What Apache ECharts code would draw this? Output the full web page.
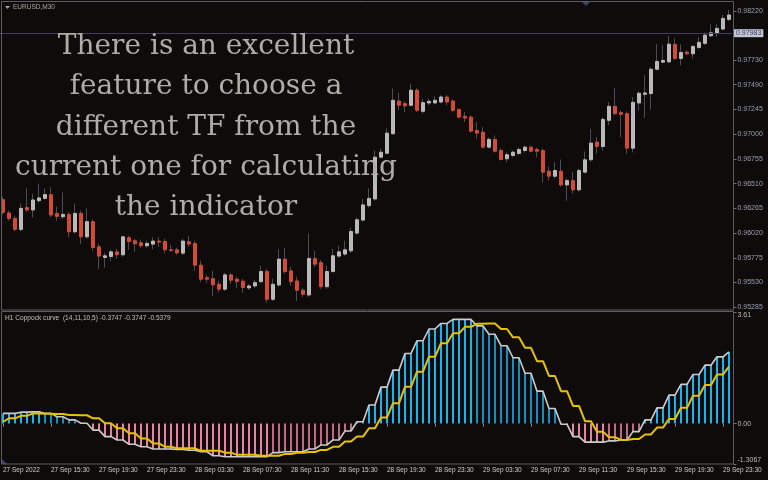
<!DOCTYPE html>
<html><head><meta charset="utf-8">
<script src="https://cdn.jsdelivr.net/npm/echarts@6/dist/echarts.min.js"></script>
<style>html,body{margin:0;padding:0;background:#0e0b0a;}#c{width:768px;height:480px;}</style>
</head><body><div id="c"></div>
<script>
// ---- time axis tick labels (every 8th M30 bar) ----
const tickLabels = ["27 Sep 2022","27 Sep 15:30","27 Sep 19:30","27 Sep 23:30","28 Sep 03:30","28 Sep 07:30","28 Sep 11:30","28 Sep 15:30","28 Sep 19:30","28 Sep 23:30","29 Sep 03:30","29 Sep 07:30","29 Sep 11:30","29 Sep 15:30","29 Sep 19:30","29 Sep 23:30"];

// ---- EURUSD M30 candles ----
const opens = [0.96351,0.96219,0.96165,0.96056,0.96272,0.96249,0.96341,0.96364,0.96401,0.96215,
0.96182,0.96205,0.96033,0.96215,0.95983,0.96133,0.95884,0.95778,0.95788,0.95834,
0.95805,0.95974,0.95944,0.95924,0.95894,0.95911,0.95941,0.95937,0.95854,0.95854,
0.95821,0.95934,0.95917,0.95702,0.95579,0.95569,0.95513,0.95464,0.95606,0.95563,
0.95543,0.95477,0.95496,0.95539,0.95639,0.95364,0.95506,0.95762,0.95646,0.95546,
0.95454,0.95407,0.95768,0.95728,0.95489,0.95639,0.95792,0.95812,0.95844,0.96020,
0.96149,0.96292,0.96358,0.96772,0.96811,0.97004,0.97328,0.97303,0.97286,0.97435,
0.97226,0.97309,0.97309,0.97318,0.97368,0.97328,0.97243,0.97176,0.97169,0.97037,
0.97020,0.96871,0.96948,0.96838,0.96756,0.96789,0.96809,0.96838,0.96871,0.96848,
0.96838,0.96633,0.96583,0.96633,0.96497,0.96540,0.96448,0.96623,0.96746,0.96921,
0.96878,0.97137,0.97276,0.97213,0.97203,0.96861,0.97309,0.97395,0.97402,0.97643,
0.97713,0.97716,0.97889,0.97750,0.97812,0.97796,0.97859,0.97899,0.97974,0.97998,
0.98041,0.98137];
const closes = [0.96225,0.96165,0.96056,0.96265,0.96249,0.96348,0.96368,0.96401,0.96199,0.96185,
0.96205,0.96033,0.96215,0.95983,0.96133,0.95877,0.95792,0.95795,0.95834,0.95805,
0.95983,0.95937,0.95914,0.95894,0.95917,0.95941,0.95931,0.95854,0.95847,0.95824,
0.95941,0.95911,0.95702,0.95563,0.95563,0.95506,0.95464,0.95606,0.95553,0.95539,
0.95480,0.95496,0.95529,0.95639,0.95364,0.95513,0.95762,0.95639,0.95539,0.95454,
0.95414,0.95768,0.95712,0.95489,0.95639,0.95795,0.95834,0.95854,0.96036,0.96152,
0.96299,0.96364,0.96772,0.96821,0.97010,0.97335,0.97286,0.97279,0.97435,0.97236,
0.97312,0.97325,0.97335,0.97368,0.97318,0.97236,0.97169,0.97159,0.97030,0.97010,
0.96871,0.96948,0.96831,0.96749,0.96796,0.96821,0.96848,0.96871,0.96831,0.96831,
0.96623,0.96583,0.96640,0.96497,0.96540,0.96448,0.96640,0.96746,0.96911,0.96878,
0.97146,0.97276,0.97203,0.97196,0.96861,0.97315,0.97405,0.97408,0.97643,0.97720,
0.97730,0.97892,0.97750,0.97809,0.97796,0.97869,0.97909,0.97981,0.98004,0.98048,
0.98147,0.98180];
const lows = [0.96202,0.96143,0.96043,0.96043,0.96232,0.96175,0.96321,0.96351,0.96175,0.96143,
0.96162,0.95977,0.96013,0.95914,0.95964,0.95844,0.95662,0.95678,0.95745,0.95765,
0.95785,0.95854,0.95834,0.95874,0.95874,0.95861,0.95884,0.95817,0.95834,0.95805,
0.95805,0.95884,0.95646,0.95536,0.95526,0.95397,0.95430,0.95447,0.95516,0.95477,
0.95427,0.95457,0.95477,0.95526,0.95330,0.95347,0.95486,0.95616,0.95496,0.95347,
0.95387,0.95387,0.95685,0.95467,0.95467,0.95626,0.95775,0.95795,0.95824,0.96003,
0.96133,0.96272,0.96341,0.96759,0.96799,0.96997,0.97236,0.97219,0.97276,0.97219,
0.97203,0.97286,0.97296,0.97306,0.97286,0.97216,0.97156,0.97120,0.97017,0.96955,
0.96858,0.96858,0.96818,0.96739,0.96722,0.96769,0.96789,0.96818,0.96818,0.96772,
0.96523,0.96540,0.96560,0.96480,0.96341,0.96411,0.96431,0.96620,0.96729,0.96809,
0.96838,0.97087,0.97186,0.96971,0.96806,0.96821,0.97236,0.97163,0.97243,0.97634,
0.97703,0.97703,0.97733,0.97683,0.97783,0.97750,0.97842,0.97882,0.97962,0.97965,
0.98031,0.98121];
const highs = [0.96381,0.96242,0.96192,0.96312,0.96461,0.96411,0.96510,0.96461,0.96474,0.96282,
0.96424,0.96232,0.96314,0.96242,0.96265,0.96152,0.95914,0.95827,0.95854,0.95864,
0.95993,0.95993,0.95964,0.95954,0.95944,0.95977,0.95977,0.95964,0.95904,0.95874,
0.95964,0.95993,0.95944,0.95745,0.95606,0.95646,0.95546,0.95626,0.95626,0.95586,
0.95566,0.95516,0.95556,0.95695,0.95665,0.95566,0.95861,0.95874,0.95685,0.95586,
0.95477,0.96013,0.95844,0.95755,0.95695,0.95864,0.95894,0.95944,0.96073,0.96175,
0.96358,0.96461,0.96838,0.96858,0.97057,0.97452,0.97408,0.97325,0.97501,0.97455,
0.97352,0.97352,0.97375,0.97385,0.97385,0.97345,0.97256,0.97219,0.97186,0.97120,
0.97070,0.96968,0.96987,0.96858,0.96818,0.96838,0.96868,0.96888,0.96888,0.96868,
0.96858,0.96679,0.96722,0.96749,0.96560,0.96623,0.96659,0.96828,0.97054,0.96971,
0.97166,0.97318,0.97458,0.97236,0.97226,0.97368,0.97425,0.97584,0.97663,0.97892,
0.97882,0.97971,0.97949,0.97889,0.97832,0.97882,0.97959,0.98008,0.98088,0.98088,
0.98180,0.98230];
const currentPrice = 0.97983;
const priceTicks = [0.98220,0.97730,0.97490,0.97245,0.97000,0.96755,0.96510,0.96265,0.96020,0.95775,0.95530,0.95285];

// ---- H1 Coppock curve (per M30 bar) ----
const coppock = [0.33,
0.33,0.33, 0.37,0.37, 0.38,0.38, 0.33,0.33, 0.22,0.22, 0.12,0.12, 0.01,0.01, -0.21,-0.21, -0.42,-0.42, -0.53,-0.53,
-0.67,-0.67, -0.75,-0.75, -0.82,-0.82, -0.82,-0.82, -0.84,-0.84, -0.86,-0.86, -0.91,-0.91, -1.04,-1.04, -1.07,-1.07, -1.07,-1.07,
-1.07,-1.07, -1.07,-1.07, -0.94,-0.94, -0.91,-0.91, -0.91,-0.91, -0.82,-0.82, -0.69,-0.69, -0.53,-0.53, -0.24,-0.24, 0.06,0.06,
0.60,0.60, 1.18,1.18, 1.73,1.73, 2.27,2.27, 2.68,2.68, 3.06,3.06, 3.24,3.24, 3.37,3.37, 3.37,3.37, 3.16,3.16,
2.89,2.89, 2.52,2.52, 2.13,2.13, 1.63,1.63, 1.05,1.05, 0.49,0.49, -0.02,-0.02, -0.42,-0.42, -0.60,-0.60, -0.60,-0.60,
-0.56,-0.56, -0.53,-0.53, -0.26,-0.26, 0.12,0.12, 0.51,0.51, 0.92,0.92, 1.27,1.27, 1.59,1.59, 1.89,1.89, 2.16,2.16,
2.32];
const signal = [0.06,
0.17,0.17, 0.25,0.25, 0.33,0.33, 0.32,0.32, 0.31,0.31, 0.28,0.28, 0.27,0.27, 0.17,0.17, 0.01,0.01, -0.15,-0.15,
-0.31,-0.31, -0.48,-0.48, -0.64,-0.64, -0.75,-0.75, -0.80,-0.80, -0.80,-0.80, -0.88,-0.88, -0.88,-0.88, -0.94,-0.94, -1.01,-1.01,
-1.01,-1.01, -1.04,-1.04, -1.04,-1.04, -0.98,-0.98, -0.94,-0.94, -0.92,-0.92, -0.85,-0.85, -0.75,-0.75, -0.58,-0.58, -0.42,-0.42,
-0.15,-0.15, 0.20,0.20, 0.66,0.66, 1.19,1.19, 1.68,1.68, 2.16,2.16, 2.60,2.60, 2.92,2.92, 3.13,3.13, 3.23,3.23,
3.24,3.24, 3.06,3.06, 2.79,2.79, 2.45,2.45, 2.02,2.02, 1.54,1.54, 1.05,1.05, 0.57,0.57, 0.08,0.08, -0.26,-0.26,
-0.44,-0.44, -0.53,-0.53, -0.50,-0.50, -0.35,-0.35, -0.13,-0.13, 0.15,0.15, 0.51,0.51, 0.90,0.90, 1.25,1.25, 1.59,1.59,
1.84];
const indTickValues = [-1.3067, 0, 3.61];
const indTickLabels = ["-1.3067", "0.00", "3.61"];
const overlayLines = ["There is an excellent", "feature to choose a", "different TF from the", "current one for calculating", "the indicator"];

// ---- build library inputs ----
const cats = coppock.map((_, i) => String(i));
const wickData = opens.map((o, i) => [o, closes[i], lows[i], highs[i]]);
const bodyData = opens.map((o, i) => [o, closes[i], Math.min(o, closes[i]), Math.max(o, closes[i])]);
// histogram: [barIndex, value, strong(1)/weak(0)]
const histData = [];
let st = 1;
coppock.forEach((v, i) => {
  if (i > 0) {
    const p = coppock[i - 1];
    if (Math.sign(v) !== Math.sign(p)) st = 1;
    else if (Math.abs(v) > Math.abs(p)) st = 1;
    else if (Math.abs(v) < Math.abs(p)) st = 0;
  }
  histData.push([i, v, st]);
});
const HIST_COLORS = {pos1: '#1cb2ec', pos0: '#168ec2', neg1: '#e8849e', neg0: '#c06a83'};

const FONT = '"Liberation Sans", Arial, sans-serif';
const chart = echarts.init(document.getElementById('c'), null, {renderer: 'canvas'});
const labelEvery8 = (i) => i % 8 === 0;

const graphics = [
  {type: 'rect', shape: {x: 1.5, y: 1.5, width: 732, height: 308.5}, style: {fill: 'none', stroke: '#5c5c62', lineWidth: 1}, silent: true, z: 100},
  {type: 'rect', shape: {x: 1.5, y: 311.5, width: 732, height: 152.5}, style: {fill: 'none', stroke: '#5c5c62', lineWidth: 1}, silent: true, z: 100},
  {type: 'polygon', shape: {points: [[5, 6], [10, 6], [7.5, 9]]}, style: {fill: '#a0a0a0'}, silent: true},
  {type: 'text', x: 13, y: 7.5, style: {text: 'EURUSD,M30', fill: '#a8a8a8', font: '6.5px ' + FONT, verticalAlign: 'middle'}, silent: true},
  {type: 'polygon', shape: {points: [[582, 2], [590, 2], [586, 6]]}, style: {fill: '#3e4468'}, silent: true},
  {type: 'text', x: 5, y: 318.5, style: {text: 'H1 Coppock curve  (14,11,10,5) -0.3747 -0.3747 -0.5379', fill: '#c0c0c0', font: '6.6px ' + FONT, verticalAlign: 'middle'}, silent: true},
  {type: 'polygon', shape: {points: [[2, 459], [2, 464], [7, 464]]}, style: {fill: '#3c3c80'}, silent: true}
];
overlayLines.forEach((t, k) => {
  graphics.push({type: 'text', x: 206, y: 46.5 + k * 40.4, z: 50,
    style: {text: t, fill: '#b0ada8', font: '28px "DejaVu Serif", serif', align: 'center', verticalAlign: 'middle'}, silent: true});
});

function renderHist(params, api) {
  const idx = api.value(0), v = api.value(1), strong = api.value(2) === 1;
  const base = api.coord([idx, 0]);
  const top = api.coord([idx, v]);
  const x = Math.round(base[0]) - 1;
  const y0 = Math.min(base[1], top[1]), h = Math.abs(top[1] - base[1]);
  const key = (v >= 0 ? 'pos' : 'neg') + (strong ? '1' : '0');
  return {type: 'rect', shape: {x: x, y: y0, width: 2, height: h}, style: {fill: HIST_COLORS[key]}};
}

chart.setOption({
  backgroundColor: '#0e0b0a',
  animation: false,
  textStyle: {fontFamily: FONT},
  grid: [
    {left: 0, width: 732, top: 2, height: 308, outerBoundsMode: 'none', containLabel: false},
    {left: 0, width: 732, top: 312, height: 152, outerBoundsMode: 'none', containLabel: false}
  ],
  xAxis: [
    {type: 'category', gridIndex: 0, data: cats, show: false, boundaryGap: true},
    {type: 'category', gridIndex: 1, data: cats, boundaryGap: true,
      axisLine: {show: false},
      axisTick: {show: true, interval: labelEvery8, alignWithLabel: true, length: 3, lineStyle: {color: '#8a8a8a'}},
      axisLabel: {show: true, interval: labelEvery8, align: 'left', margin: 3, color: '#d0d0d0', fontSize: 6.5, fontFamily: FONT,
        formatter: (v, i) => tickLabels[i / 8]},
      splitLine: {show: false}}
  ],
  yAxis: [
    {type: 'value', gridIndex: 0, position: 'right', offset: 1.5, min: 0.95258, max: 0.98309, scale: true,
      axisLine: {show: false}, splitLine: {show: false},
      axisTick: {show: true, length: 3, customValues: priceTicks, lineStyle: {color: '#70707a'}},
      axisLabel: {show: true, customValues: priceTicks, margin: 4, color: '#9aa0b6', fontSize: 7, fontFamily: FONT,
        formatter: (v) => v.toFixed(5)}},
    {type: 'value', gridIndex: 1, position: 'right', offset: 1.5, min: -1.3067, max: 3.61,
      axisLine: {show: false}, splitLine: {show: false},
      axisTick: {show: true, length: 3, customValues: indTickValues, lineStyle: {color: '#70707a'}},
      axisLabel: {show: true, customValues: indTickValues, margin: 4, color: '#bcbcbc', fontSize: 7, fontFamily: FONT,
        verticalAlignMinLabel: 'bottom', verticalAlignMaxLabel: 'top',
        formatter: (v) => { const k = indTickValues.indexOf(v); return k >= 0 ? indTickLabels[k] : ''; }}}
  ],
  series: [
    {type: 'candlestick', name: 'wicks', xAxisIndex: 0, yAxisIndex: 0, data: wickData, barWidth: 1,
      itemStyle: {color: '#4c4c58', color0: '#4c4c58', borderColor: '#4c4c58', borderColor0: '#4c4c58', borderWidth: 1},
      markLine: {silent: true, symbol: 'none', animation: false,
        lineStyle: {color: '#3c3e62', width: 1, type: 'solid'},
        label: {show: true, position: 'end', distance: 2, formatter: () => currentPrice.toFixed(5),
          backgroundColor: '#c2c6d2', color: '#3a4262', fontSize: 7, fontFamily: FONT, padding: [1, 2, 0, 2]},
        data: [{yAxis: currentPrice}]}},
    {type: 'candlestick', name: 'bodies', xAxisIndex: 0, yAxisIndex: 0, data: bodyData, barWidth: 4,
      itemStyle: {color: '#b9b9b9', color0: '#d24b36', borderColor: '#b9b9b9', borderColor0: '#d24b36', borderWidth: 1}},
    {type: 'custom', name: 'histogram', xAxisIndex: 1, yAxisIndex: 1, data: histData,
      encode: {x: 0, y: 1}, renderItem: renderHist, silent: true},
    {type: 'line', name: 'coppock', xAxisIndex: 1, yAxisIndex: 1, data: coppock, symbol: 'none',
      lineStyle: {color: '#cccccc', width: 1.6}},
    {type: 'line', name: 'signal', xAxisIndex: 1, yAxisIndex: 1, data: signal, symbol: 'none',
      lineStyle: {color: '#e8c200', width: 2}}
  ],
  graphic: graphics
});
</script>
</body></html>
